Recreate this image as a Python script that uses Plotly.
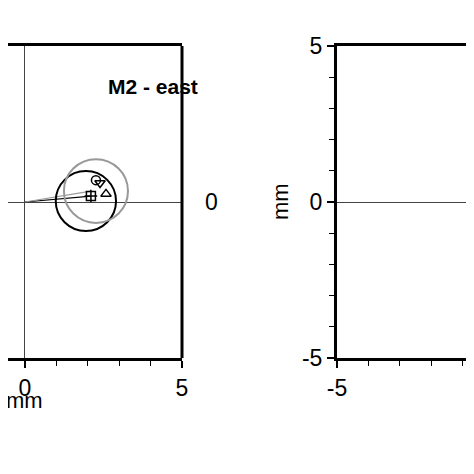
import plotly.graph_objects as go

# marker positions (mm)
mk_names = ["circle-open", "triangle-down-open", "triangle-up-open", "square-open"]
mk_x = [2.26, 2.39, 2.58, 2.10]
mk_y = [0.70, 0.61, 0.26, 0.19]
# error circles: center x, center y, radius, color
circ_x = [1.94, 2.26]
circ_y = [0.03, 0.35]
circ_r = [0.96, 1.02]
circ_c = ["black", "#999999"]
# vectors from origin
vec_x = [2.10, 2.10]
vec_y = [0.19, 0.35]
vec_c = ["black", "#999999"]

F = "Liberation Sans, Arial, sans-serif"
fig = go.Figure()
for x, y, c in zip(vec_x, vec_y, vec_c):
    fig.add_trace(go.Scatter(x=[0, x], y=[0, y], mode="lines", line=dict(color=c, width=1.2),
                             xaxis="x", yaxis="y", showlegend=False))
for s, x, y in zip(mk_names, mk_x, mk_y):
    fig.add_trace(go.Scatter(x=[x], y=[y], mode="markers",
                             marker=dict(symbol=s, size=9, color="black", line=dict(width=1.5, color="black")),
                             xaxis="x", yaxis="y", showlegend=False))
fig.add_trace(go.Scatter(x=[2.10], y=[0.19], mode="markers",
                         marker=dict(symbol="cross-thin-open", size=9, color="black",
                                     line=dict(width=1.5, color="black")),
                         xaxis="x", yaxis="y", showlegend=False))
fig.add_trace(go.Scatter(x=[-3], y=[0], mode="markers", marker=dict(opacity=0),
                         xaxis="x2", yaxis="y2", showlegend=False))
for x, y, r, c in zip(circ_x, circ_y, circ_r, circ_c):
    fig.add_shape(type="circle", xref="x", yref="y", x0=x - r, x1=x + r, y0=y - r, y1=y + r,
                  line=dict(color=c, width=2))

ax = dict(showgrid=False, showline=True, linecolor="black", linewidth=3, ticks="outside",
          ticklen=7, tickwidth=1.5, tickcolor="black", tickfont=dict(family=F, size=23, color="black"),
          zeroline=True, zerolinecolor="#444", zerolinewidth=1,
          minor=dict(ticks="outside", dtick=1, ticklen=5, tickcolor="black", tickwidth=1.2))
fig.update_layout(
    width=474, height=474, margin=dict(l=0, r=0, t=0, b=0, autoexpand=False),
    plot_bgcolor="white", paper_bgcolor="white",
    xaxis=dict(ax, domain=[0, 174/474], range=[-0.54, 5], tickvals=[0, 5], ticktext=["0", "5"],
               mirror=True, anchor="y"),
    yaxis=dict(ax, domain=[124/474, 436/474], range=[-5, 5], side="right", tickvals=[0], ticktext=["0"],
               mirror=False, anchor="x", ticks="", minor=dict(ticks=""), showline=False, ticklabelstandoff=22),
    xaxis2=dict(ax, domain=[329/474, 1], range=[-5, -0.38], tickvals=[-5], ticktext=["-5"],
                mirror=True, anchor="y2"),
    yaxis2=dict(ax, domain=[124/474, 436/474], range=[-5, 5], tickvals=[-5, 0, 5],
                ticktext=["-5", "0", "5"], anchor="x2", mirror=True),
    annotations=[
        dict(text="<b>M2 - east</b>", x=98/474, y=1 - 65/474, xref="paper", yref="paper", showarrow=False,
             font=dict(family=F, size=21, color="black")),
        dict(text="mm", x=0, xref="x", y=1 - 407/474, yref="paper", showarrow=False,
             font=dict(family=F, size=22, color="black")),
        dict(text="mm", x=0, xref="x2", y=1 - 407/474, yref="paper", showarrow=False,
             font=dict(family=F, size=22, color="black")),
        dict(text="mm", x=272/474, xref="paper", y=0, yref="y2", showarrow=False, textangle=-90,
             font=dict(family=F, size=22, color="black")),
    ],
)
fig.add_shape(type="line", xref="paper", yref="y", x0=174/474, x1=174/474, y0=-5, y1=5,
              line=dict(color="black", width=3))
fig.write_html("out.html")
